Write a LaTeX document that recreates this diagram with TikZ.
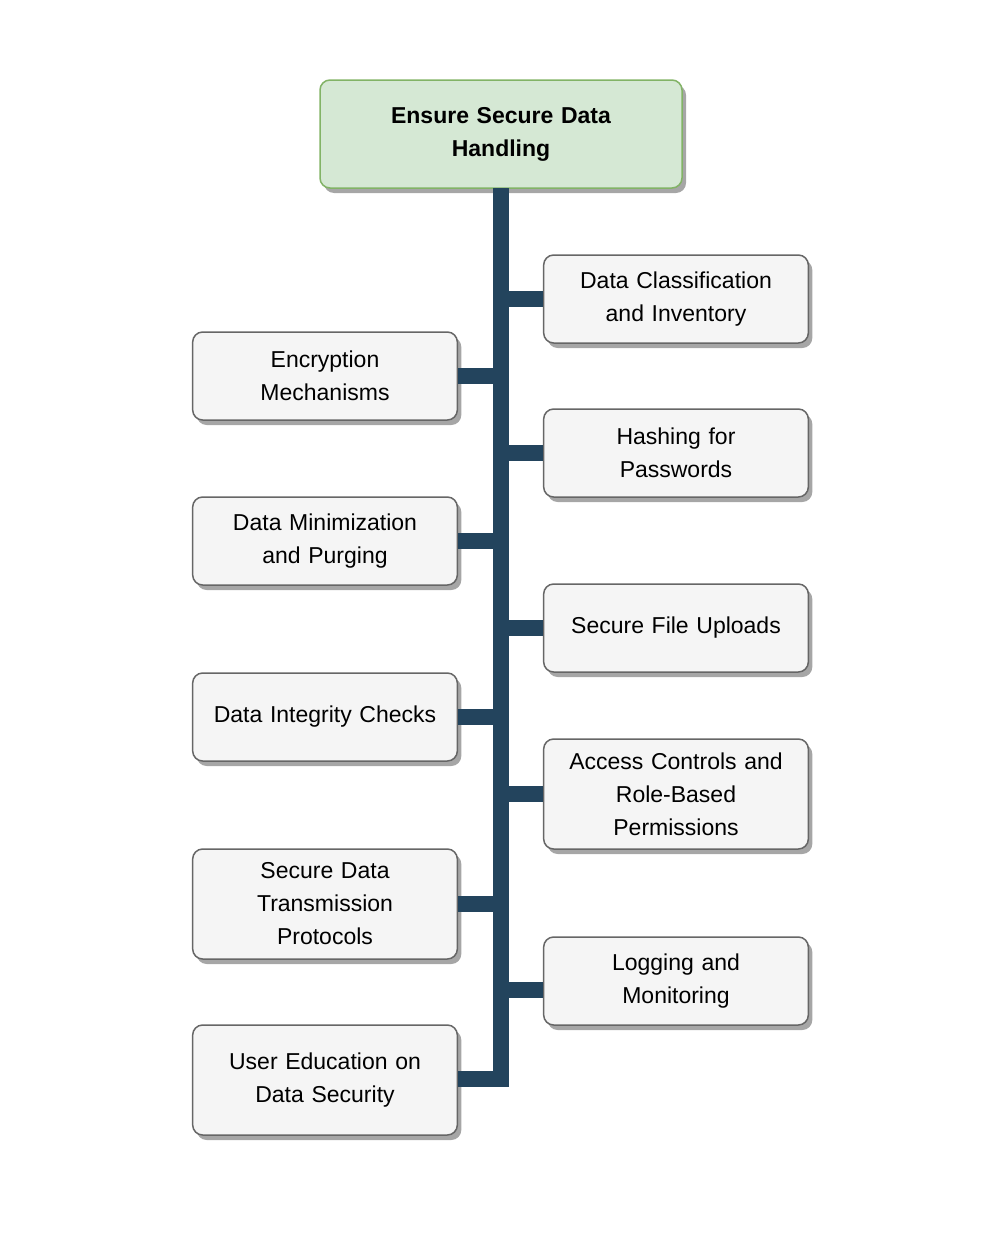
\documentclass[tikz,border=0pt]{standalone}
\usepackage{fontspec}
\setmainfont{Liberation Sans}
\usetikzlibrary{shadows}
\definecolor{gfill}{HTML}{D5E8D4}\definecolor{gline}{HTML}{82B366}
\definecolor{bfill}{HTML}{F5F5F5}\definecolor{bline}{HTML}{666666}
\definecolor{spine}{HTML}{23445D}
\tikzset{x=1pt,y=-1pt,
 box/.style={draw=bline,fill=bfill,line width=1.5pt,rounded corners=10pt,minimum width=264pt,align=center,text width=258pt,
  font=\fontsize{23}{33}\selectfont,drop shadow={shadow xshift=4pt,shadow yshift=-5pt,fill=black!35,opacity=1}},
 conn/.style={draw=spine,line width=16pt}}
\begin{document}
\begin{tikzpicture}
\useasboundingbox (0,0) rectangle (1000,1250);
\node[box,draw=gline,fill=gfill,minimum width=362pt,text width=340pt,minimum height=108pt,font=\fontsize{23}{33}\selectfont\bfseries] (root) at (501,134) {Ensure Secure Data\\Handling};
\node[box,minimum height=88pt] (r1) at (676,299) {Data Classification\\and Inventory};
\node[box,minimum height=88pt] (r2) at (676,453) {Hashing for\\Passwords};
\node[box,minimum height=88pt] (r3) at (676,628) {Secure File Uploads};
\node[box,minimum height=110pt] (r4) at (676,794) {Access Controls and\\Role-Based\\Permissions};
\node[box,minimum height=88pt] (r5) at (676,981) {Logging and\\Monitoring};
\node[box,minimum height=88pt] (l1) at (325,376) {Encryption\\Mechanisms};
\node[box,minimum height=88pt] (l2) at (325,541) {Data Minimization\\and Purging};
\node[box,minimum height=88pt] (l3) at (325,717) {Data Integrity Checks};
\node[box,minimum height=110pt] (l4) at (325,904) {Secure Data\\Transmission\\Protocols};
\node[box,minimum height=110pt] (l5) at (325,1080) {User Education on\\Data Security};
\begin{scope}[on background layer/.style={}]
\end{scope}
\foreach \n/\y in {r1/299,r2/453,r3/628,r4/794,r5/990}{
 \draw[conn] (501,188) -- (501,\y) -- (\n.west |- 0,\y);}
\foreach \n/\y in {l1/376,l2/541,l3/717,l4/904,l5/1079}{
 \draw[conn] (501,188) -- (501,\y) -- (\n.east |- 0,\y);}
\draw[conn] (501,188) -- (501,1087);
\end{tikzpicture}
\end{document}
